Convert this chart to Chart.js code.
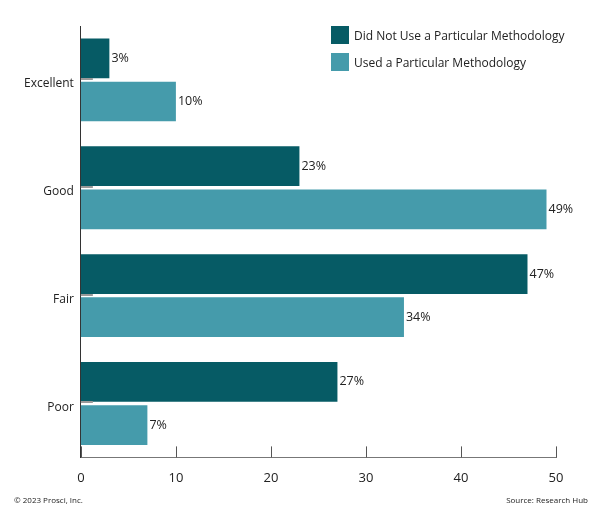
<!DOCTYPE html>
<html>
<head>
<meta charset="utf-8">
<script src="https://cdn.jsdelivr.net/npm/chart.js@4"></script>
<style>
  body { margin: 0; background: #fff; font-family: "Open Sans", sans-serif; }
  #wrap { position: relative; width: 601px; height: 516px; }
  #legend { position: absolute; left: 331px; top: 26px; font-size: 12px; color: #222; }
  #legend div { display: flex; align-items: center; height: 18px; margin-bottom: 9px; }
  #legend span.box { width: 18px; height: 18px; margin-right: 5px; }
  .foot { position: absolute; top: 494px; font-size: 8px; color: #222; }
</style>
</head>
<body>
<div id="wrap">
  <canvas id="barChart" width="601" height="516"></canvas>
  <div id="legend"></div>
  <div class="foot" style="left:14px">© 2023 Prosci, Inc.</div>
  <div class="foot" style="right:13px">Source: Research Hub</div>
</div>
<script>
const categories = ['Excellent', 'Good', 'Fair', 'Poor'];
const seriesNames = ['Did Not Use a Particular Methodology', 'Used a Particular Methodology'];
const notUsed = [3, 23, 47, 27];
const used = [10, 49, 34, 7];
const xTicks = [0, 10, 20, 30, 40, 50];
const colors = ['#065b65', '#459bab'];

// value labels at the end of each bar
const barLabels = {
    id: 'barLabels',
    afterDatasetsDraw(chart) {
        const ctx = chart.ctx;
        ctx.save();
        ctx.font = '12.5px "Open Sans"';
        ctx.fillStyle = '#222';
        ctx.textBaseline = 'middle';
        chart.data.datasets.forEach((ds, i) => {
            chart.getDatasetMeta(i).data.forEach((bar, j) => {
                ctx.fillText(ds.data[j] + '%', bar.x + 2, bar.y);
            });
        });
        ctx.restore();
    }
};

// small inward tick marks on both axes
const innerTicks = {
    id: 'innerTicks',
    afterDraw(chart) {
        const ctx = chart.ctx;
        const x = chart.scales.x, y = chart.scales.y;
        const area = chart.chartArea;
        ctx.save();
        ctx.strokeStyle = '#555';
        ctx.lineWidth = 1;
        xTicks.forEach(v => {
            const px = Math.round(x.getPixelForValue(v)) + 0.5;
            ctx.beginPath();
            ctx.moveTo(px, area.bottom);
            ctx.lineTo(px, area.bottom - 11);
            ctx.stroke();
        });
        ctx.strokeStyle = '#999';
        ctx.lineWidth = 2;
        categories.forEach((c, i) => {
            const py = Math.round(y.getPixelForValue(i)) - 1;
            ctx.beginPath();
            ctx.moveTo(area.left, py);
            ctx.lineTo(area.left + 12, py);
            ctx.stroke();
        });
        ctx.restore();
    }
};

const ctx = document.getElementById('barChart').getContext('2d');
const barChart = new Chart(ctx, {
    type: 'bar',
    data: {
        labels: categories,
        datasets: [
            { label: seriesNames[0], data: notUsed, backgroundColor: colors[0] },
            { label: seriesNames[1], data: used, backgroundColor: colors[1] }
        ]
    },
    options: {
        indexAxis: 'y',
        responsive: false,
        animation: false,
        categoryPercentage: 0.8,
        barPercentage: 0.92,
        layout: { padding: { top: 26, right: 45, bottom: 17, left: 17 } },
        scales: {
            x: {
                min: 0, max: 50,
                afterBuildTicks: s => { s.ticks = xTicks.map(v => ({ value: v })); },
                grid: { display: false, drawTicks: false },
                border: { color: '#777', width: 1 },
                ticks: { padding: 13, color: '#222', font: { family: 'Open Sans', size: 13 } }
            },
            y: {
                grid: { display: false, drawTicks: false },
                border: { color: '#333', width: 1 },
                ticks: { padding: 7, labelOffset: 4, color: '#222', font: { family: 'Open Sans', size: 12 } }
            }
        },
        plugins: {
            legend: { display: false },
            tooltip: { enabled: false }
        }
    },
    plugins: [barLabels, innerTicks]
});

// html legend built from the datasets
const legend = document.getElementById('legend');
barChart.data.datasets.forEach(ds => {
    const row = document.createElement('div');
    row.innerHTML = '<span class="box" style="background:' + ds.backgroundColor + '"></span>' + ds.label;
    legend.appendChild(row);
});
</script>
</body>
</html>
